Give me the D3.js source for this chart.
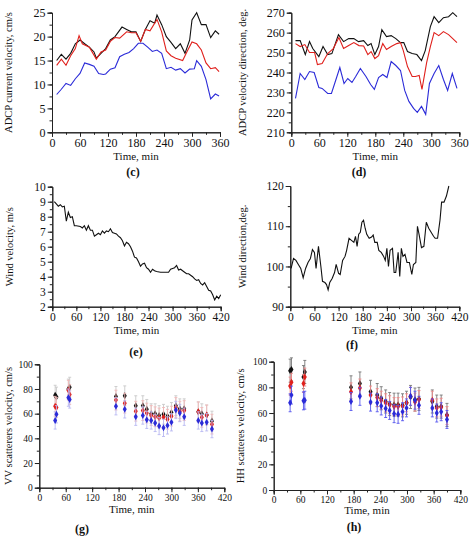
<!DOCTYPE html>
<html><head><meta charset="utf-8">
<script src="https://cdn.jsdelivr.net/npm/d3@7"></script>
<style>body{margin:0;background:#fff}svg text{font-family:"Liberation Serif","DejaVu Serif",serif !important}</style>
</head><body><svg id="c" width="474" height="538"></svg>
<script>
// ---- data ----
const cT=[10,20,30,40,50,60,70,80,90,95,105,115,125,135,150,160,170,180,190,200,210,220,225,235,245,255,265,275,285,295,300,310,320,330,340,350,358];
const cBlack=[15,16.3,15.3,16.5,18.5,19.3,18.5,17.8,16.8,15.5,16.5,17.5,19.3,20,22,21.5,21,21,19,21.5,23.3,22.8,24.5,22.5,20,18.8,17.5,18.5,16.5,19.3,23.5,25,22.5,22.5,19.8,21.2,20.5];
const cT2=[10,20,30,40,50,58,65,80,95,105,115,125,135,145,160,170,180,190,200,210,225,235,245,255,265,280,290,300,310,320,330,340,350,358];
const cRed=[14,15.3,14,16,17.5,20.2,18.5,17.8,15.3,16.8,17.2,19,19.8,19.7,21,20.8,20.8,19,21.5,21.2,23.6,21,17,16,15.5,15,17,18.9,18.5,17.2,14.5,13.3,13.5,12.7];
const cT3=[10,20,30,40,50,60,70,80,90,100,110,115,125,135,145,155,165,175,185,195,205,215,225,235,245,255,265,275,285,295,305,310,320,330,340,350,358];
const cBlue=[7.9,9,10.2,9.8,11.2,12.3,14.5,14.2,13.8,12.3,12.1,12.2,13.2,13.5,15.8,16.3,16.7,17.5,18.6,18.6,17.8,16.9,17.2,16.5,13.3,13.6,13,13.3,12.4,13.2,13.3,15,13.8,11,7,8,7.6];

const dTb=[9,19,30,39,46,59,68,78,87,101,112,123,134,144,155,164,171,179,187,194,204,214,224,234,241,249,259,269,279,287,298,306,316,326,337,346,355];
const dBlack=[256,256,249,255.5,252,248,253,249,249.5,259,255.5,257,257,255.5,256,253.5,254.5,249,253,261.5,258,258.5,257,255,255,250.5,249.5,249,246,251,263,268,265,267.5,268,270,268];
const dTr=[9,19,29,39,50,56,66,78,90,102,112,123,134,145,155,164,171,179,187,196,204,214,226,234,240,249,259,266,274,280,290,298,306,316,326,337,346,355];
const dRed=[254.5,253,254,250,250,244,244.5,249.5,252,257.5,252,253.5,255,253.5,253.3,249,250.5,247,248.5,254.5,251.5,253,254.5,255,251,243,238,238,238.5,231.5,245,253,260,258.5,260.5,259,257,255];
const dTbl=[9,19,29,39,49,59,66,78,86,95,104,113,121,130,138,148,160,170,178,187,196,205,214,224,234,243,252,262,270,279,288,296,306,316,326,335,345,355];
const dBlue=[227,239.5,236.5,240.5,240,232.5,232,229.5,229.5,236,242.5,234.5,237,235,238,242,238,234,231.5,237.5,239,237.5,245.5,243.5,241,231,225.5,222,220,223,219,234.5,239.5,243.5,236.5,231,239.5,232];

const eT=[5,10,15,20,25,30,35,40,45,50,55,60,70,75,80,85,90,95,100,105,110,115,120,125,130,135,140,145,150,155,160,165,170,175,180,185,190,195,200,205,210,215,220,225,230,235,240,245,250,255,260,270,280,290,295,300,305,310,315,320,325,330,335,340,345,350,355,360,365,370,375,380,385,390,395,400,405,410,415,420];
const eWind=[9.0,8.85,8.7,8.8,8.65,8.7,7.7,8.3,7.95,8.0,7.4,7.4,7.35,7.25,7.4,7.1,7.4,7.1,7.1,6.7,6.8,6.9,6.8,7.05,6.9,7.05,7.0,7.2,6.95,6.9,6.85,6.7,6.6,6.4,6.05,6.3,6.2,6.0,5.7,5.3,5.25,5.0,4.7,4.85,4.9,4.6,4.5,4.3,4.5,4.4,4.35,4.3,4.3,4.3,4.5,4.55,4.6,4.75,4.45,4.5,4.4,4.3,4.2,4.2,4.1,4.0,3.85,3.75,3.8,3.55,3.45,3.6,3.35,3.1,3.05,2.8,2.45,2.7,2.55,2.8];

const fT=[2,8,14,20,26,32,38,44,50,55,60,64,70,76,80,86,90,94,98,104,110,114,120,124,130,136,140,146,152,158,162,166,170,174,178,182,186,190,196,202,206,210,216,220,226,232,236,240,244,248,254,258,262,268,272,276,280,285,290,296,302,306,312,316,320,326,332,338,344,350,356,360,366,372,376,382,388,394];
const fDir=[99.5,102,101.5,100.5,99.5,97.2,99.5,101,102,104.2,103.5,99.5,105,100,96.3,96,95.5,94.2,96,97,98.5,100.5,98.3,98,101.5,102.5,104,107,106.5,106,107.5,105,108,108.5,111,111.5,109.5,108,107,107.3,107.8,106,106,104,103.5,102.5,101.5,104.5,100,104,104.5,98.5,98.5,103.5,97.5,104.5,102.5,103,101,101,98,100.5,101,110,108,104.7,105,111,109.5,108.5,107.5,107,107,111.5,116,116,117.5,120];

const gT=[36,39,66,69,174,194,219,235,244,254,263,272,282,291,300,310,319,329,361,369,380,392];
const gBlack=[75,73.5,80,81.5,74,74.5,66.5,66.5,63.5,60,60,58.5,59.5,58,61,66.5,64,64,61.5,60,59,54];
const gRed=[66,65,79,75.5,71,68.5,62,62.5,60.5,58.5,57.5,56.5,57,55.5,58,65,62,62.5,61.5,57,59,51.5];
const gBlue=[54.5,59.5,73,71.5,66,63.5,57.5,58.5,55,54.5,52.5,50,48.5,50.5,53,63,60.5,57.5,54.5,52.5,53,47.5];

const hT=[37,40,67,70,174,194,218,233,242,252,261,271,280,290,299,308,318,327,357,367,377,390];
const hBlack=[93,94,88,92,80,83,76.5,74,71.5,69,67,66.5,66.5,66,68,72.5,70.5,71,69,65,65,58.5];
const hRed=[81,84,83,88,76.5,79.5,74,72,70,68,66.5,65,65,65.5,68,73,68.5,70.5,70,64,64.5,58];
const hBlue=[68,74,69.5,70,69,73,68.5,68,65.5,63.5,62,59.5,59,61,64,73,70,66,64,60,61,55];

const timeTicks360=[0,60,120,180,240,300,360];
const timeTicks420=[0,60,120,180,240,300,360,420];
const BLACK="#111",RED="#e0201c",BLUE="#2b2bd8";

const svg=d3.select("#c");
const SERIF="Liberation Serif";
function panel(o){
  const x=d3.scaleLinear().domain(o.xd).range(o.xr);
  const y=d3.scaleLinear().domain(o.yd).range(o.yr);
  const g=svg.append("g").attr("font-family",SERIF);
  const xm=[];for(let v=o.xd[0];v<=o.xd[1];v+=(o.xt[1]-o.xt[0])/2)xm.push(v);
  const ym=[];for(let v=o.yd[0];v<=o.yd[1]+1e-9;v+=(o.yt[1]-o.yt[0])/2)ym.push(v);
  g.append("g").attr("transform",`translate(0,${o.yr[0]})`).call(d3.axisBottom(x).tickValues(xm).tickSize(2.5).tickFormat(""));
  g.append("g").attr("transform",`translate(${o.xr[0]},0)`).call(d3.axisLeft(y).tickValues(ym).tickSize(2.5).tickFormat(""));
  const ax=g.append("g").attr("transform",`translate(0,${o.yr[0]})`).call(d3.axisBottom(x).tickValues(o.xt).tickSize(4.5).tickPadding(2));
  const ay=g.append("g").attr("transform",`translate(${o.xr[0]},0)`).call(d3.axisLeft(y).tickValues(o.yt).tickSize(4.5).tickPadding(2));
  g.selectAll("g").attr("font-family",SERIF);
  g.selectAll(".domain,.tick line").attr("stroke","#222");
  [ax,ay].forEach(a=>a.selectAll("text").attr("font-family",SERIF).attr("font-size",o.fs||12).attr("fill","#111"));
  g.append("text").attr("x",(o.xr[0]+o.xr[1])/2).attr("y",o.xty).attr("text-anchor","middle").attr("font-size",11).attr("fill","#111").text("Time, min");
  g.append("text").attr("transform",`translate(${o.ytx},${(o.yr[0]+o.yr[1])/2}) rotate(-90)`).attr("text-anchor","middle").attr("font-size",10.5).attr("fill","#111").text(o.ylab);
  g.append("text").attr("x",o.lab[0]).attr("y",o.lab[1]).attr("text-anchor","middle").attr("font-size",12).attr("font-weight","bold").attr("fill","#111").text(o.label);
  return {g,x,y};
}
function line(p,t,v,c){
  p.g.append("path").datum(t.map((d,i)=>[d,v[i]])).attr("fill","none").attr("stroke",c).attr("stroke-width",1.1)
   .attr("d",d3.line().x(d=>p.x(d[0])).y(d=>p.y(d[1])));
}
function pts(p,t,v,c,ec,err){
  const data=t.map((d,i)=>[d,v[i]]);
  p.g.selectAll(null).data(data).enter().append("line").attr("stroke",ec).attr("stroke-width",0.9)
   .attr("x1",d=>p.x(d[0])).attr("x2",d=>p.x(d[0])).attr("y1",d=>p.y(d[1]-err)).attr("y2",d=>p.y(d[1]+err));
  [-1,1].forEach(s=>p.g.selectAll(null).data(data).enter().append("line").attr("stroke",ec).attr("stroke-width",0.9)
   .attr("x1",d=>p.x(d[0])-1.5).attr("x2",d=>p.x(d[0])+1.5).attr("y1",d=>p.y(d[1]+s*err)).attr("y2",d=>p.y(d[1]+s*err)));
  p.g.selectAll(null).data(data).enter().append("path").attr("fill",c)
   .attr("transform",d=>`translate(${p.x(d[0])},${p.y(d[1])})`).attr("d",d3.symbol(d3.symbolDiamond,14));
}
const pc=panel({xd:[0,360],xr:[52,220],yd:[0,25],yr:[132.3,12.7],xt:timeTicks360,yt:[0,5,10,15,20,25],xty:160,ytx:12,ylab:"ADCP current velocity, cm/s",lab:[133,176],label:"(c)"});
line(pc,cT,cBlack,BLACK);line(pc,cT2,cRed,RED);line(pc,cT3,cBlue,BLUE);
const pd=panel({xd:[0,360],xr:[291.3,459.3],yd:[210,270],yr:[132.3,12.7],xt:timeTicks360,yt:[210,220,230,240,250,260,270],xty:160,ytx:246,ylab:"ADCP velocity direction, deg.",lab:[359,176],label:"(d)"});
line(pd,dTb,dBlack,BLACK);line(pd,dTr,dRed,RED);line(pd,dTbl,dBlue,BLUE);
const pe=panel({xd:[0,420],xr:[52.3,220.7],yd:[2,10],yr:[306.7,186.7],xt:timeTicks420,yt:[2,3,4,5,6,7,8,9,10],xty:334,ytx:13,ylab:"Wind velocity, m/s",lab:[136,356],label:"(e)",fs:11.5});
line(pe,eT,eWind,BLACK);
const pf=panel({xd:[0,420],xr:[290.3,459.3],yd:[90,120],yr:[306.7,186],xt:timeTicks420,yt:[90,100,110,120],xty:334,ytx:246,ylab:"Wind direction,deg.",lab:[352,349],label:"(f)",fs:11.5});
line(pf,fT,fDir,BLACK);
const pg=panel({xd:[0,420],xr:[39.3,224.3],yd:[0,100],yr:[487.7,364.3],xt:timeTicks420,yt:[0,20,40,60,80,100],xty:513,ytx:12,ylab:"VV scatterers velocity, cm/s",lab:[82,533],label:"(g)",fs:9.5});
pts(pg,gT,gBlack,BLACK,"#c9c9c9",8);pts(pg,gT,gRed,RED,"#f2b8b8",8);pts(pg,gT,gBlue,BLUE,"#b8b8f2",7);
const ph=panel({xd:[0,420],xr:[273.7,460.3],yd:[0,100],yr:[490,361.7],xt:timeTicks420,yt:[0,20,40,60,80,100],xty:514,ytx:244,ylab:"HH scatteres velocity, cm/s",lab:[354,531],label:"(h)",fs:9.5});
pts(ph,hT,hBlack,BLACK,"#777",9);pts(ph,hT,hRed,RED,"#e88",7);pts(ph,hT,hBlue,BLUE,"#55e",7);
</script></body></html>
